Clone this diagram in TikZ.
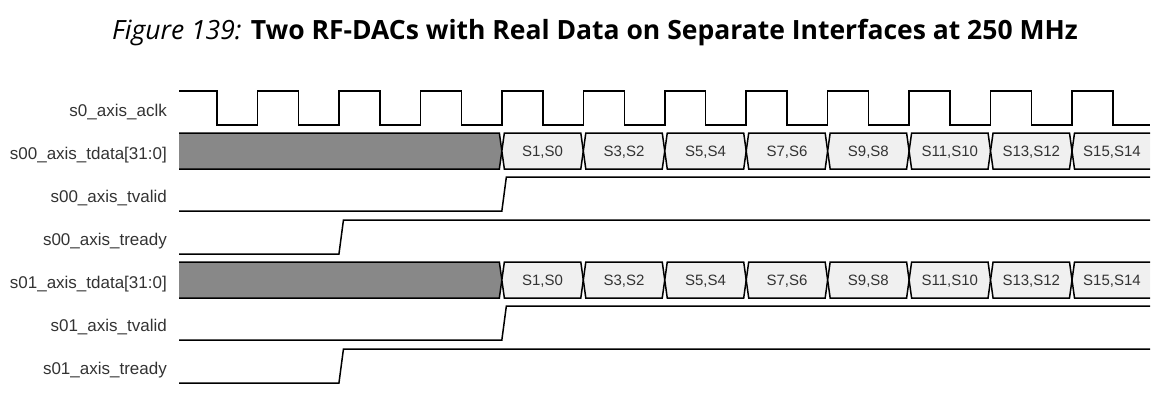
\documentclass[tikz,border=0pt]{standalone}
\usepackage{fontspec}
\setmainfont{Liberation Sans}
\newfontfamily\titlefont{Open Sans}
\definecolor{txt}{HTML}{333333}
\definecolor{busgray}{HTML}{888888}
\definecolor{cellfill}{HTML}{F0F0F0}
\begin{document}
\begin{tikzpicture}[x=1pt,y=-1pt,
  sig/.style={line width=1.5pt,line join=miter,black},
  lbl/.style={anchor=base east,inner sep=0pt,text=txt,font=\fontsize{17}{20}\selectfont},
  celltxt/.style={anchor=base,inner sep=0pt,text=txt,font=\fontsize{15}{18}\selectfont},
  title/.style={anchor=base,inner sep=0pt,text=black}]
\useasboundingbox (0,0) rectangle (1161,416);
\def\P{81.45}
\def\dd{2.5}
% title
\node[title] (ttl) at (595,39) {\titlefont\fontsize{26.5}{30}\selectfont\textit{Figure 139:} \textbf{Two RF-DACs with Real Data on Separate Interfaces at 250 MHz}};
% labels
\node[lbl] (l1) at (167,116) {s0\_axis\_aclk};
\node[lbl] (l2) at (167,159) {s00\_axis\_tdata[31:0]};
\node[lbl] (l3) at (167,202) {s00\_axis\_tvalid};
\node[lbl] (l4) at (167,245) {s00\_axis\_tready};
\node[lbl] (l5) at (167,288) {s01\_axis\_tdata[31:0]};
\node[lbl] (l6) at (167,331) {s01\_axis\_tvalid};
\node[lbl] (l7) at (167,374) {s01\_axis\_tready};
% clock
\draw[sig] (179,91)
  \foreach \k in {0,...,10} {
    -- ({217+\k*\P},91) -- ({217+\k*\P},125)
    -- ({257.5+\k*\P},125) -- ({257.5+\k*\P},91) }
  -- ({217+11*\P},91) -- ({217+11*\P},125) -- (1150,125);
% data buses
\foreach \T/\B/\nm in {133/169/a,262/298/b}{
  \pgfmathsetmacro\M{(\T+\B)/2}
  \pgfmathsetmacro\xs{257.5+3*\P}
  \fill[busgray] (179,\T) -- ({\xs-\dd},\T) -- (\xs,\M) -- ({\xs-\dd},\B) -- (179,\B) -- cycle;
  \draw[sig] (179,\T) -- ({\xs-\dd},\T) -- (\xs,\M) -- ({\xs-\dd},\B) -- (179,\B);
  \foreach \k/\s in {3/{S1,S0},4/{S3,S2},5/{S5,S4},6/{S7,S6},7/{S9,S8},8/{S11,S10},9/{S13,S12}}{
    \pgfmathsetmacro\xl{257.5+\k*\P}
    \pgfmathsetmacro\xr{257.5+(\k+1)*\P}
    \draw[sig,fill=cellfill] ({\xl+\dd},\T) -- ({\xr-\dd},\T) -- (\xr,\M) -- ({\xr-\dd},\B) -- ({\xl+\dd},\B) -- (\xl,\M) -- cycle;
    \node[celltxt] (c\nm\k) at ({(\xl+\xr)/2},{\M+5.4}) {\s};
  }
  \pgfmathsetmacro\xl{257.5+10*\P}
  \fill[cellfill] ({\xl+\dd},\T) -- (1150,\T) -- (1150,\B) -- ({\xl+\dd},\B) -- (\xl,\M) -- cycle;
  \draw[sig] (1150,\T) -- ({\xl+\dd},\T) -- (\xl,\M) -- ({\xl+\dd},\B) -- (1150,\B);
  \node[celltxt] (c\nm10) at ({(\xl+1150)/2+1},{\M+5.4}) {S15,S14};
}
% valid / ready
\pgfmathsetmacro\xv{257.5+3*\P}
\pgfmathsetmacro\xr{257.5+1*\P}
\draw[sig] (179,211) -- (\xv,211) -- ({\xv+4.5},177) -- (1150,177);
\draw[sig] (179,254) -- (\xr,254) -- ({\xr+4.5},220) -- (1150,220);
\draw[sig] (179,340) -- (\xv,340) -- ({\xv+4.5},306) -- (1150,306);
\draw[sig] (179,383) -- (\xr,383) -- ({\xr+4.5},349) -- (1150,349);
\end{tikzpicture}
\end{document}
